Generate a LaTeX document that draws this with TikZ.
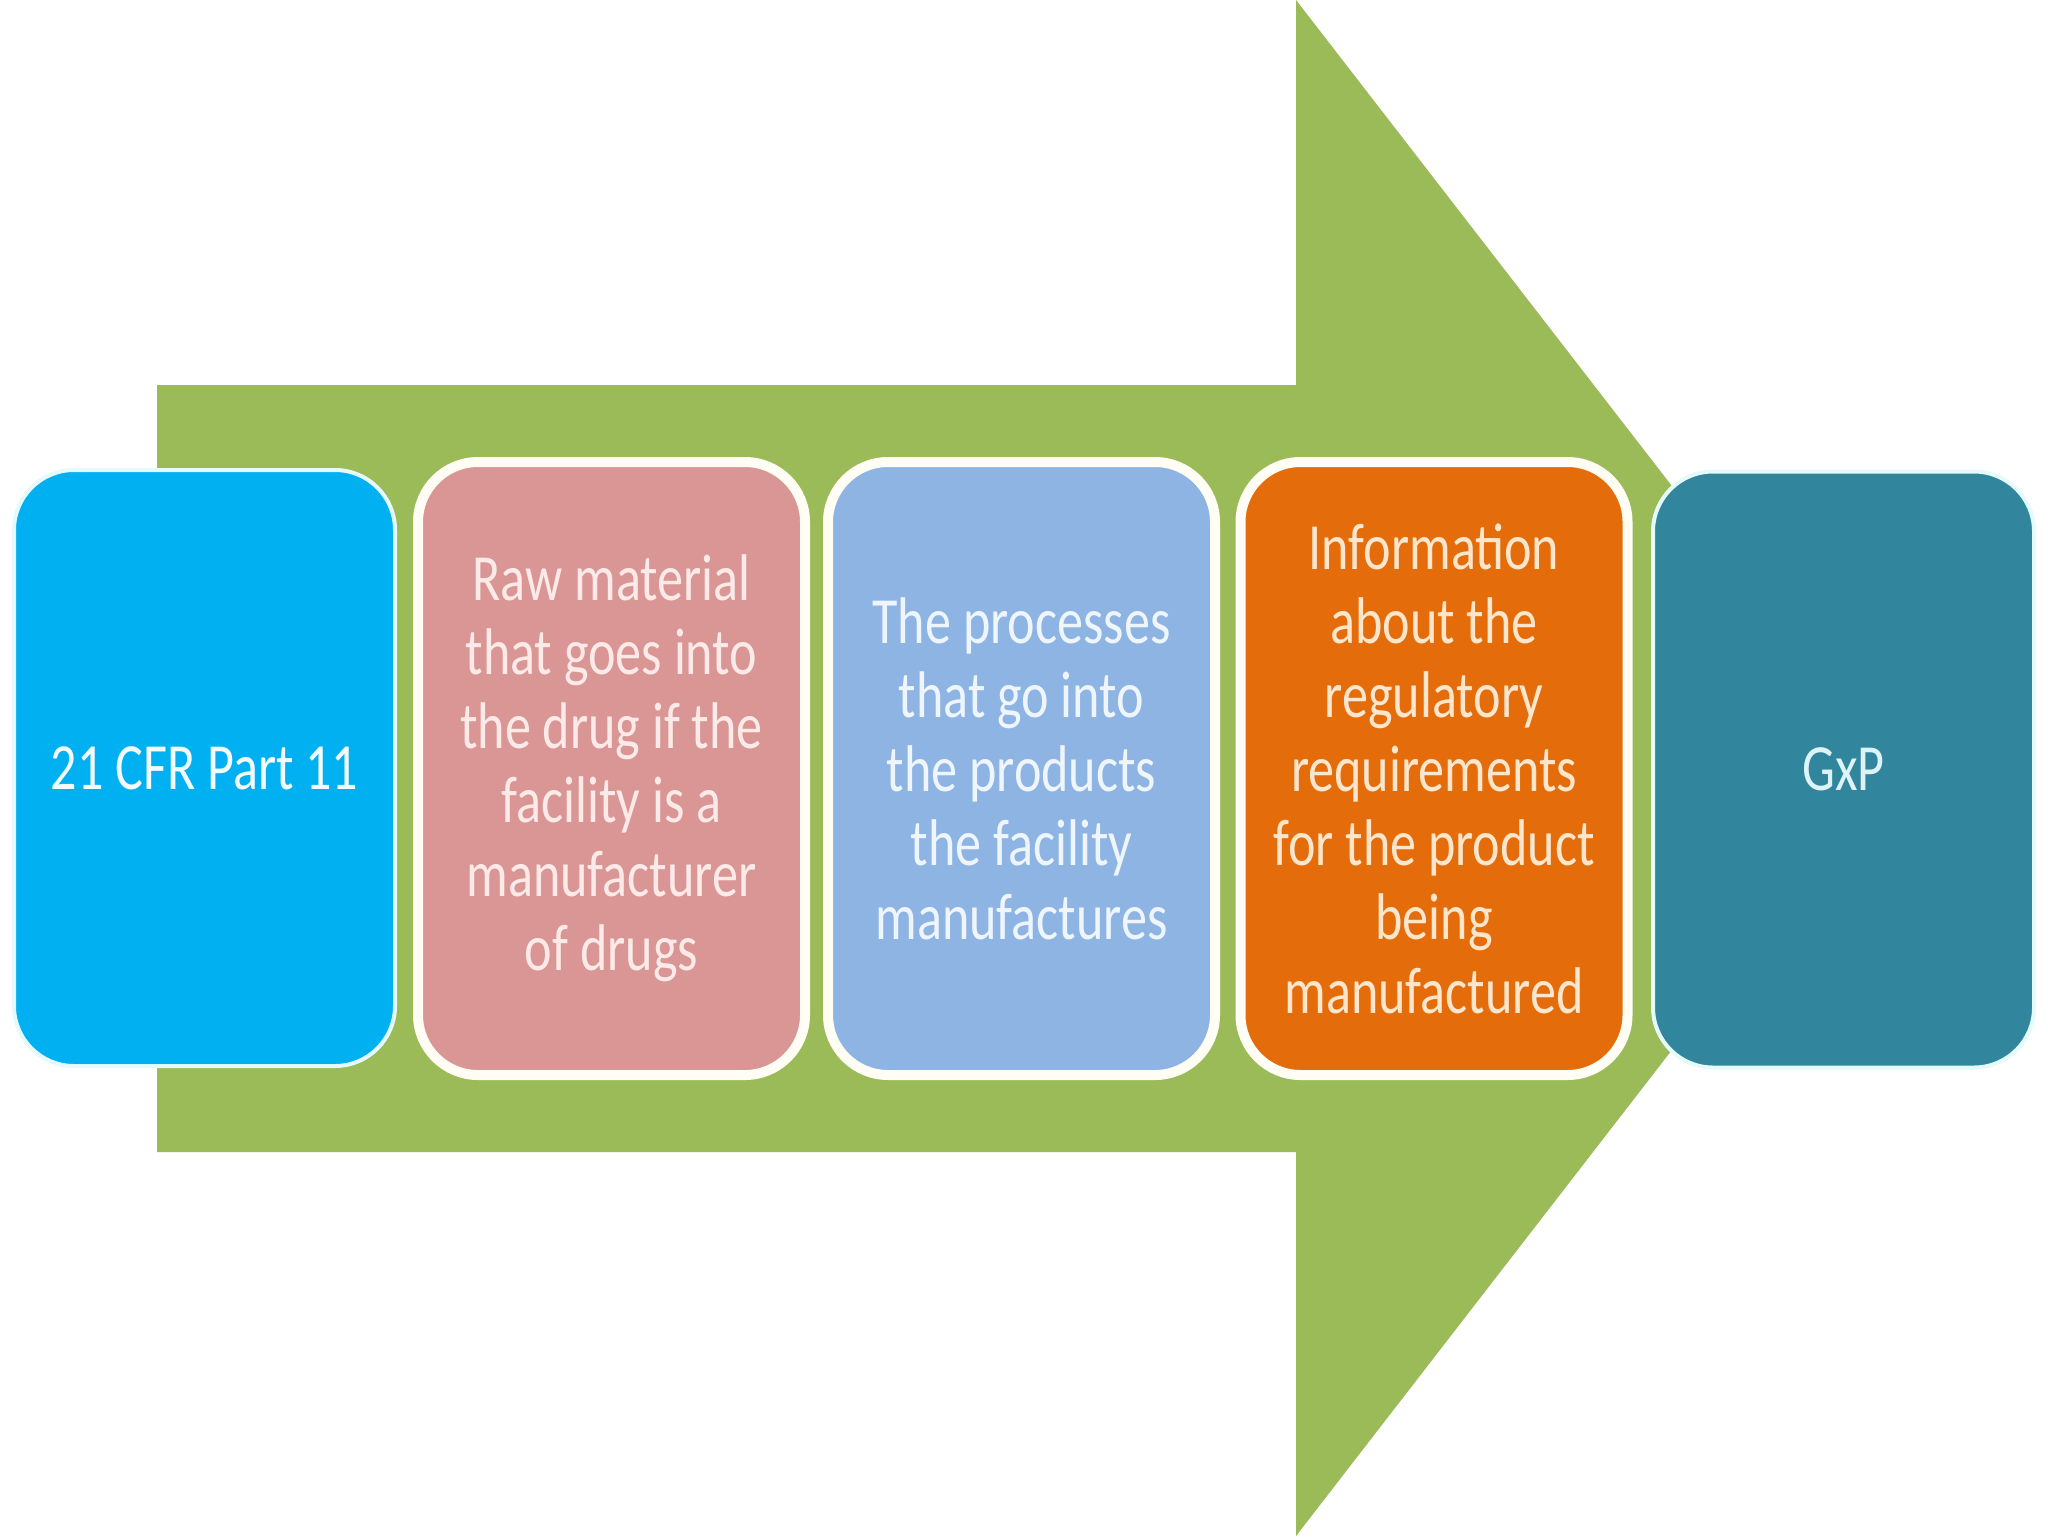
\documentclass[tikz,border=0pt]{standalone}
\usepackage{fontspec}
\setmainfont{Carlito}
\newfontfamily\boxfont[FakeStretch=0.79]{Carlito}
\definecolor{arrowgreen}{HTML}{9BBB59}
\definecolor{cyanbox}{HTML}{00B0F0}
\definecolor{cyanedge}{HTML}{E4FAFF}
\definecolor{cyantext}{HTML}{F2FBFF}
\definecolor{pinkbox}{HTML}{D99694}
\definecolor{pinktext}{HTML}{FCEAE9}
\definecolor{bluebox}{HTML}{8EB4E3}
\definecolor{bluetext}{HTML}{EEF5FD}
\definecolor{orangebox}{HTML}{E46C0A}
\definecolor{orangetext}{HTML}{FDE6CC}
\definecolor{tealbox}{HTML}{31859C}
\definecolor{tealedge}{HTML}{E4FAFB}
\definecolor{tealtext}{HTML}{DDF3F7}
\definecolor{boxwhite}{HTML}{FFFDF4}
\tikzset{
  stagebox/.style={rectangle, rounded corners=30pt, minimum width=193.5pt,
    minimum height=306.5pt, line width=5pt, draw=boxwhite, align=center,
    font=\boxfont\fontsize{33}{37}\selectfont, inner sep=0pt},
  endbox/.style={stagebox, line width=2pt, minimum width=190.5pt, minimum height=298pt}
}
\begin{document}
\begin{tikzpicture}[x=0.5pt,y=-0.5pt]
\useasboundingbox (0,0) rectangle (2048,1536);
\fill[white] (0,0) rectangle (2048,1536);
% big arrow
\fill[arrowgreen] (157,385) -- (1296,385) -- (1296,0) -- (1890,768)
  -- (1296,1536) -- (1296,1152) -- (157,1152) -- cycle;
% boxes
\node[endbox, fill=cyanbox, draw=cyanedge, text=cyantext] (cfr) at (204.5,768) {21 CFR Part 11};
\node[stagebox, fill=pinkbox, text=pinktext] (raw) at (611.5,768.5)
  {Raw material\\that goes into\\the drug if the\\facility is a\\manufacturer\\of drugs};
\node[stagebox, fill=bluebox, text=bluetext] (proc) at (1021.5,768.5)
  {The processes\\that go into\\the products\\the facility\\manufactures};
\node[stagebox, fill=orangebox, text=orangetext] (info) at (1434,768.5)
  {Information\\about the\\regulatory\\requirements\\for the product\\being\\manufactured};
\node[endbox, fill=tealbox, draw=tealedge, text=tealtext] (gxp) at (1843.5,769.5) {GxP};
\end{tikzpicture}
\end{document}
